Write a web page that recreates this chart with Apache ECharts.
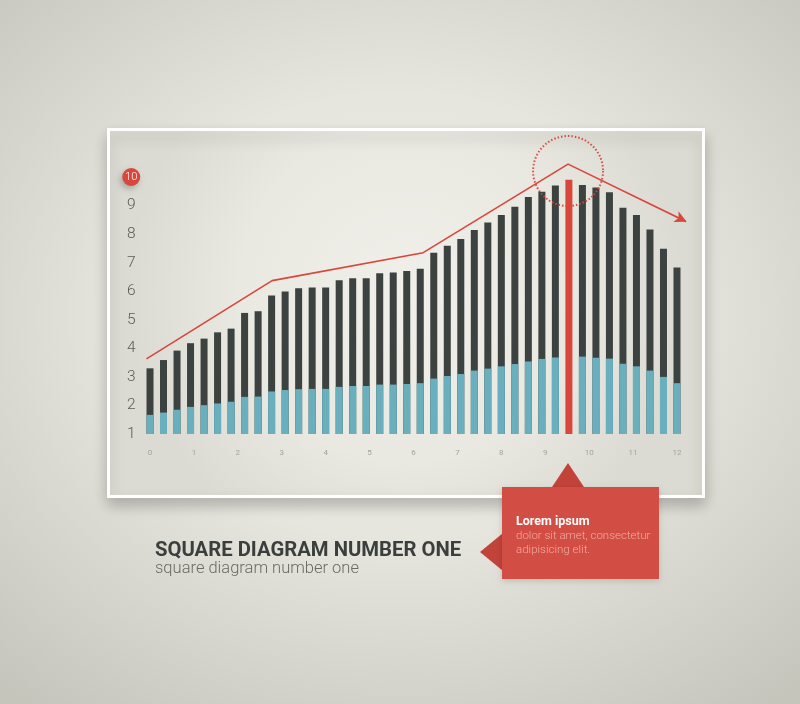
<!DOCTYPE html>
<html>
<head>
<meta charset="utf-8">
<script src="https://cdn.jsdelivr.net/npm/echarts@6/dist/echarts.min.js"></script>
<style>
html,body{margin:0;padding:0;}
body{width:800px;height:704px;background:radial-gradient(ellipse 75% 70% at 50% 45%, #eeede6 0%, #e6e5de 45%, #cfcec6 85%, #c6c5bc 100%);}
#chart{width:800px;height:704px;}
</style>
</head>
<body>
<div id="chart"></div>
<script>
// ---- data ----
const barCategories = Array.from({length: 40}, (_, i) => String(i));
const totalValues = [3.30,3.59,3.92,4.18,4.34,4.56,4.69,5.24,5.30,5.85,
                     5.99,6.10,6.13,6.13,6.38,6.45,6.45,6.63,6.66,6.71,
                     6.79,7.35,7.59,7.83,8.14,8.41,8.67,8.96,9.30,9.48,
                     9.70,9.90,9.72,9.63,9.47,8.92,8.67,8.16,7.49,6.83];
const lowerValues = [1.67,1.75,1.85,1.95,2.01,2.07,2.13,2.30,2.31,2.49,
                     2.54,2.57,2.58,2.58,2.65,2.68,2.68,2.73,2.73,2.75,
                     2.78,2.94,3.03,3.10,3.22,3.29,3.37,3.45,3.54,3.63,
                     3.68,null,3.71,3.67,3.64,3.46,3.37,3.22,3.00,2.78];
const highlightIndex = 31;
const trendX = [-0.08, 2.78, 6.22, 9.52, 12.22];
const trendY = [3.63, 6.37, 7.35, 10.45, 8.43];
const peakMarker = [9.52, 10.21];
const yTicks = [1,2,3,4,5,6,7,8,9,10];
const xTicks = [0,1,2,3,4,5,6,7,8,9,10,11,12];
const titleText = 'SQUARE DIAGRAM NUMBER ONE';
const subtitleText = 'square diagram number one';
const calloutTitle = 'Lorem ipsum';
const calloutLines = ['dolor sit amet, consectetur', 'adipisicing elit.'];

const DARK = '#3b4240', BLUE = '#6aafbd', RED = '#d9463b', BOXRED = '#d24d43';
// half a category slot expressed on the 0..12 label axis (40 bars over 12 units)
const HALF_SLOT = 12 / 39 / 2;

const chart = echarts.init(document.getElementById('chart'), null, {renderer: 'canvas'});

const darkData = totalValues.map((v, i) => i === highlightIndex
  ? {value: v, itemStyle: {color: RED}} : v);

const trendData = trendX.map((x, i) => {
  const item = {value: [x, trendY[i]]};
  if (i === trendX.length - 1) {
    item.symbol = 'arrow';
    item.symbolSize = [9, 12];
    item.symbolRotate = -116;
    item.itemStyle = {color: RED};
  }
  return item;
});

const option = {
  backgroundColor: 'transparent',
  animation: false,
  grid: {left: 143.25, right: 116.25, top: 177, bottom: 270, containLabel: false},
  xAxis: [
    {type: 'category', data: barCategories, boundaryGap: true,
     axisLine: {show: false}, axisTick: {show: false}, axisLabel: {show: false}, splitLine: {show: false}},
    {type: 'value', min: -HALF_SLOT, max: 12 + HALF_SLOT, position: 'bottom',
     axisLine: {show: false}, axisTick: {show: false}, splitLine: {show: false},
     axisLabel: {color: '#a3a39c', fontSize: 8, margin: 15, fontFamily: 'Roboto',
       customValues: xTicks, showMinLabel: true, showMaxLabel: true,
       formatter: v => String(v)}}
  ],
  yAxis: {type: 'value', min: 1, max: 10, interval: 1,
    axisLine: {show: false}, axisTick: {show: false}, splitLine: {show: false},
    axisLabel: {color: '#5a5a57', fontSize: 15.5, fontFamily: 'Roboto', fontWeight: 300,
      align: 'center', margin: 12,
      formatter: v => v === 10 ? '{r|10}' : (yTicks.includes(v) ? String(v) : ''),
      rich: {r: {backgroundColor: RED, color: '#fff', borderRadius: 9, width: 18, height: 18,
        lineHeight: 18, fontSize: 11, align: 'center', fontFamily: 'Roboto', fontWeight: 300,
        shadowBlur: 6, shadowColor: 'rgba(0,0,0,0.25)', shadowOffsetX: -2, shadowOffsetY: 3}}}
  },
  series: [
    {type: 'bar', xAxisIndex: 0, data: darkData, barWidth: 7, itemStyle: {color: DARK}, z: 3},
    {type: 'bar', xAxisIndex: 0, data: lowerValues, barWidth: 7, barGap: '-100%', itemStyle: {color: BLUE}, z: 4},
    {type: 'line', xAxisIndex: 1, data: trendData, symbol: 'none', showSymbol: true, clip: false,
     lineStyle: {color: RED, width: 1.6}, itemStyle: {color: RED}, z: 6},
    {type: 'scatter', xAxisIndex: 1, data: [peakMarker], symbol: 'circle', symbolSize: 70, clip: false,
     itemStyle: {color: 'rgba(0,0,0,0)', borderColor: RED, borderWidth: 2, borderType: [1.5, 2], opacity: 0.95}, z: 5}
  ],
  graphic: [
    {type: 'rect', z: -10, silent: true,
     shape: {x: 108.5, y: 129.5, width: 595, height: 367},
     style: {fill: new echarts.graphic.RadialGradient(0.5, 0.45, 0.75, [
        {offset: 0, color: '#f0efe9'}, {offset: 0.6, color: '#e9e8e1'}, {offset: 1, color: '#dcdbd3'}]),
       stroke: '#ffffff', lineWidth: 3,
       shadowBlur: 14, shadowColor: 'rgba(0,0,0,0.22)', shadowOffsetY: 7}},
    {type: 'polygon', z: 100, silent: true,
     shape: {points: [[568, 463], [552, 487], [584, 487]]}, style: {fill: '#c2433a'}},
    {type: 'polygon', z: 100, silent: true,
     shape: {points: [[480, 552], [503, 533], [503, 571]]}, style: {fill: '#c2433a'}},
    {type: 'rect', z: 101, silent: true,
     shape: {x: 502, y: 487, width: 157, height: 92},
     style: {fill: BOXRED, shadowBlur: 6, shadowColor: 'rgba(0,0,0,0.15)', shadowOffsetY: 2}},
    {type: 'text', z: 102, silent: true, x: 516, y: 522,
     style: {text: calloutTitle, fill: '#ffffff', font: 'bold 12.5px Roboto', verticalAlign: 'middle'}},
    {type: 'text', z: 102, silent: true, x: 516, y: 536,
     style: {text: calloutLines[0], fill: '#f2aca4', font: '300 11.5px Roboto', verticalAlign: 'middle'}},
    {type: 'text', z: 102, silent: true, x: 516, y: 550,
     style: {text: calloutLines[1], fill: '#f2aca4', font: '300 11.5px Roboto', verticalAlign: 'middle'}},
    {type: 'text', z: 50, silent: true, x: 155, y: 551,
     style: {text: titleText, fill: '#3a3f3e', font: 'bold 20.3px Roboto', verticalAlign: 'middle'}},
    {type: 'text', z: 50, silent: true, x: 155, y: 569,
     style: {text: subtitleText, fill: '#6a6a66', font: '300 16.5px Roboto', verticalAlign: 'middle'}}
  ]
};
chart.setOption(option);
</script>
</body>
</html>
